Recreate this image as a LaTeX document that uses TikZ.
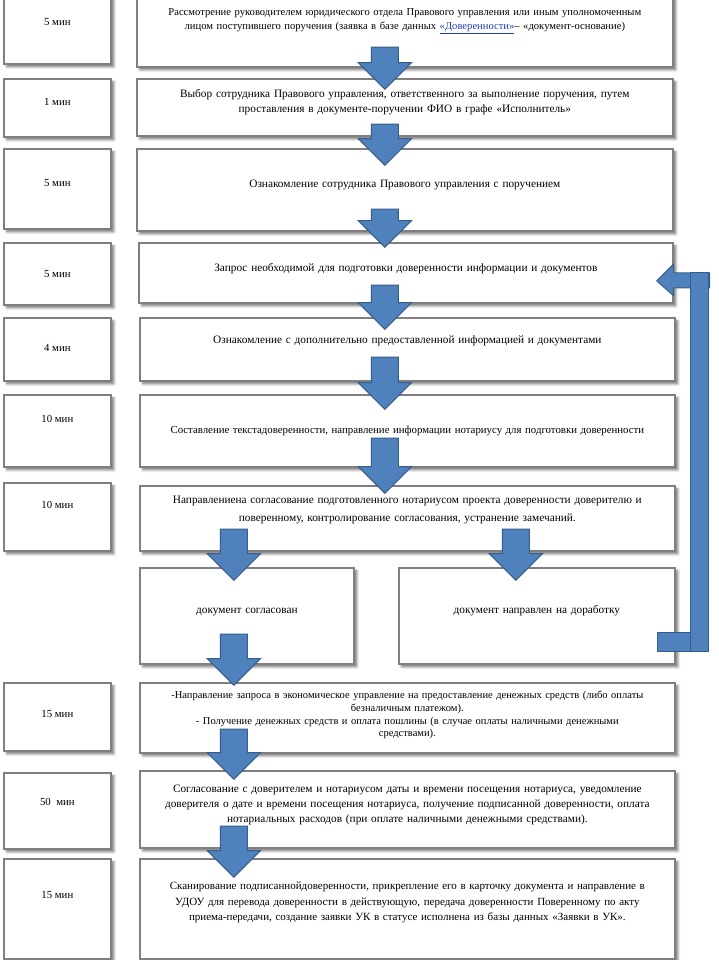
\documentclass[tikz,border=0pt]{standalone}
\usepackage{fontspec}
\setmainfont{Liberation Serif}
\usepackage{xcolor}
\usetikzlibrary{shapes.arrows, shadows.blur, positioning}
\definecolor{arrowblue}{HTML}{4F81BD}
\definecolor{arrowedge}{HTML}{385D8A}
\definecolor{boxedge}{HTML}{7F7F7F}
\definecolor{linkblue}{HTML}{1F3FB0}

\begin{document}
\begin{tikzpicture}[x=1pt, y=-1pt]
\tikzstyle{boxshadow} = [blur shadow={shadow xshift=3pt, shadow yshift=-3pt, shadow blur radius=2.5pt, shadow blur steps=6, shadow opacity=55, shadow blur extra rounding=0pt}]
\tikzstyle{timebox} = [rectangle, anchor=north west, draw=boxedge, line width=1.7pt, fill=white, boxshadow, minimum width=107pt, inner sep=2pt, text centered, font=\fontsize{10.8}{14}\selectfont]
\tikzstyle{stepbox} = [rectangle, anchor=north west, draw=boxedge, line width=1.7pt, fill=white, boxshadow, minimum width=535pt, text width=525pt, inner sep=2pt, align=center, font=\fontsize{11.3}{15}\selectfont]
\tikzstyle{flowarrow} = [single arrow, shape border rotate=270, anchor=tail, draw=arrowedge, fill=arrowblue, line width=1pt, minimum width=52pt, single arrow head extend=13pt, inner xsep=13pt, inner ysep=0pt]
\tikzstyle{backarrow} = [draw=arrowedge, fill=arrowblue, line width=1pt, line join=round]

\useasboundingbox (0,0) rectangle (719,960);
\clip (0,0) rectangle (719,960);

% time column
\node (t1) [timebox, minimum height=83pt] at (3,-20) {5 мин};
\node (t2) [timebox, minimum height=58pt, text depth=12pt] at (3,78) {1 мин};
\node (t3) [timebox, minimum height=80pt, text depth=12pt] at (3,148) {5 мин};
\node (t4) [timebox, minimum height=62pt] at (3,242) {5 мин};
\node (t5) [timebox, minimum height=63pt, text depth=3pt] at (3,317) {4 мин};
\node (t6) [timebox, minimum height=72pt, text depth=24pt] at (3,394) {10 мин};
\node (t7) [timebox, minimum height=68pt, text depth=24pt] at (3,482) {10 мин};
\node (t9) [timebox, minimum height=68pt, text depth=6pt] at (3,682) {15 мин};
\node (t10) [timebox, minimum height=76pt, text depth=18pt] at (3,772) {50\ \ мин};
\node (t11) [timebox, minimum height=100pt, text depth=28pt] at (3,858) {15 мин};

% steps
\node (p1) [stepbox, minimum width=536pt, minimum height=86pt, text depth=24pt, font=\fontsize{10.6}{14}\selectfont] at (136,-20) {Рассмотрение руководителем юридического отдела Правового управления или иным уполномоченным\\лицом поступившего поручения (заявка в базе данных {\color{linkblue}\underline{«Доверенности»}}– «документ-основание)};
\node (p2) [stepbox, minimum width=536pt, minimum height=57pt, text depth=28pt] at (136,78) {Выбор сотрудника Правового управления, ответственного за выполнение поручения, путем\\проставления в документе-поручении ФИО в графе «Исполнитель»};
\node (p3) [stepbox, minimum width=536pt, minimum height=82pt, text depth=12pt] at (136,148) {Ознакомление сотрудника Правового управления с поручением};
\node (p4) [stepbox, minimum width=534pt, minimum height=60pt, text depth=10pt] at (138,242) {Запрос необходимой для подготовки доверенности информации и документов};
\node (p5) [stepbox, minimum height=63pt, text depth=19pt] at (139,317) {Ознакомление с дополнительно предоставленной информацией и документами};
\node (p6) [stepbox, minimum height=72pt, font=\fontsize{10.8}{15}\selectfont] at (139,394) {Составление текстадоверенности, направление информации  нотариусу для подготовки доверенности};
\node (p7) [stepbox, minimum height=65pt, text depth=38pt, font=\fontsize{11.3}{18}\selectfont] at (139,485) {Направлениена согласование подготовленного нотариусом проекта доверенности доверителю  и\\поверенному, контролирование согласования, устранение замечаний.};
\node (p8a) [stepbox, minimum width=214pt, text width=204pt, minimum height=96pt, text depth=10pt] at (139,567) {документ согласован};
\node (p8b) [stepbox, minimum width=276pt, text width=266pt, minimum height=96pt, text depth=12pt] at (398,567) {документ направлен на доработку};
\node (p9) [stepbox, minimum height=70pt, text depth=46pt, font=\fontsize{10.5}{12.7}\selectfont] at (139,682) {-Направление запроса в экономическое управление на предоставление денежных средств (либо оплаты\\безналичным платежом).\\- Получение денежных средств и оплата пошлины (в случае оплаты наличными денежными\\средствами).};
\node (p10) [stepbox, minimum height=77pt, text depth=42pt] at (139,770) {Согласование с доверителем и нотариусом даты и времени посещения нотариуса, уведомление\\доверителя  о дате и времени посещения нотариуса, получение подписанной доверенности, оплата\\нотариальных расходов (при оплате наличными денежными средствами).};
\node (p11) [stepbox, minimum height=100pt, text depth=46pt, font=\fontsize{11}{15.5}\selectfont] at (139,858) {Сканирование  подписаннойдоверенности, прикрепление его в  карточку документа и направление в\\УДОУ для перевода доверенности в действующую, передача доверенности Поверенному по акту\\приема-передачи, создание заявки УК в статусе исполнена из базы данных «Заявки в УК».};

% block arrows
\node (a1) [flowarrow, minimum height=42pt] at ([xshift=-20pt, yshift=21pt]p1.south) {};
\node (a2) [flowarrow, minimum height=41pt] at ([xshift=-20pt, yshift=13pt]p2.south) {};
\node (a3) [flowarrow, minimum height=38pt] at ([xshift=-20pt, yshift=23pt]p3.south) {};
\node (a4) [flowarrow, minimum height=44pt] at ([xshift=-21pt, yshift=19pt]p4.south) {};
\node (a5) [flowarrow, minimum height=52pt] at ([xshift=-22.5pt, yshift=25pt]p5.south) {};
\node (a6) [flowarrow, minimum height=55pt] at ([xshift=-22.5pt, yshift=30pt]p6.south) {};
\node (a7) [flowarrow, minimum height=51pt] at ([xshift=-173.5pt, yshift=23pt]p7.south) {};
\node (a8) [flowarrow, minimum height=51pt] at ([xshift=108.5pt, yshift=23pt]p7.south) {};
\node (a9) [flowarrow, minimum height=51pt] at ([xshift=-13pt, yshift=31pt]p8a.south) {};
\node (a10) [flowarrow, minimum height=50pt] at ([xshift=-173.5pt, yshift=25pt]p9.south) {};
\node (a11) [flowarrow, minimum height=51pt] at ([xshift=-173.5pt, yshift=23pt]p10.south) {};

% return arrow
\coordinate (retto) at ([xshift=-17pt, yshift=-8pt]p4.east);
\draw [backarrow] (retto) -- ++(17,-17) -- ++(0,9) -- ++(36,0) -- ++(0,15) -- ++(-36,0) -- ++(0,8) -- cycle;
\draw [backarrow] (657,632) rectangle (708,651);
\draw [backarrow] (690,272) rectangle (708,651);
\end{tikzpicture}
\end{document}
